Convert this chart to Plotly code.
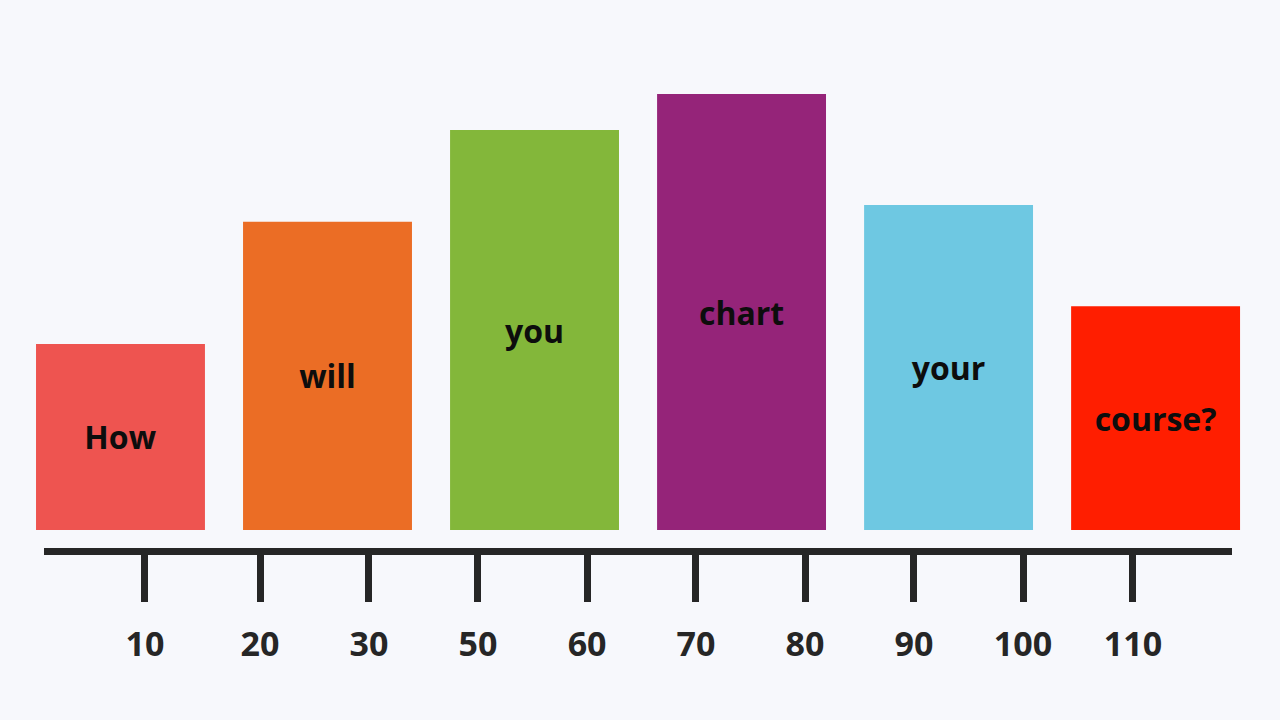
import plotly.graph_objects as go

# bar data
words = ["How", "will", "you", "chart", "your", "course?"]
heights = [30, 49.7, 64.5, 70.3, 52.4, 36.1]
colors = ["#ee5450", "#eb6d25", "#83b73a", "#952479", "#6ec8e2", "#ff1e00"]

# axis ticks (positions in bar units) and their labels
tick_pos = [0.118, 0.674, 1.20, 1.727, 2.254, 2.78, 3.307, 3.833, 4.36, 4.891]
tick_labels = ["10", "20", "30", "50", "60", "70", "80", "90", "100", "110"]

bg = "#f7f8fc"
ink = "#262626"

fig = go.Figure()
fig.add_trace(go.Bar(
    x=list(range(len(words))), y=heights,
    marker_color=colors, marker_line_width=0,
    text=words, textposition="inside", insidetextanchor="middle",
    textangle=0,
    textfont=dict(family="Open Sans", size=32, color="#0d0d0d", weight="bold"),
    hoverinfo="skip", showlegend=False,
))
# dummy trace so the tick axis gets drawn
fig.add_trace(go.Scatter(x=tick_pos, y=[None] * len(tick_pos), xaxis="x2",
                         mode="markers", showlegend=False, hoverinfo="skip"))

fig.update_layout(
    width=1280, height=720,
    margin=dict(l=0, r=0, t=0, b=0),
    paper_bgcolor=bg, plot_bgcolor="rgba(0,0,0,0)",
    bargap=0.184,
    xaxis=dict(range=[-0.582, 5.601], domain=[0, 1], visible=False),
    xaxis2=dict(
        range=[-0.3696, 5.3696], domain=[44 / 1280, 1232 / 1280],
        anchor="free", position=(720 - 551) / 720,
        showline=True, linewidth=7, linecolor=ink,
        ticks="outside", ticklen=47, tickwidth=7, tickcolor=ink,
        tickvals=tick_pos, ticktext=tick_labels, ticklabelstandoff=13,
        tickfont=dict(family="Open Sans", size=34, color=ink, weight="bold"),
        showgrid=False, zeroline=False,
    ),
    yaxis=dict(range=[-30.65, 85.48], domain=[0, 1], visible=False),
)

fig.write_html("out.html", config={"displayModeBar": False},
               post_script="document.body.style.margin='0';")
